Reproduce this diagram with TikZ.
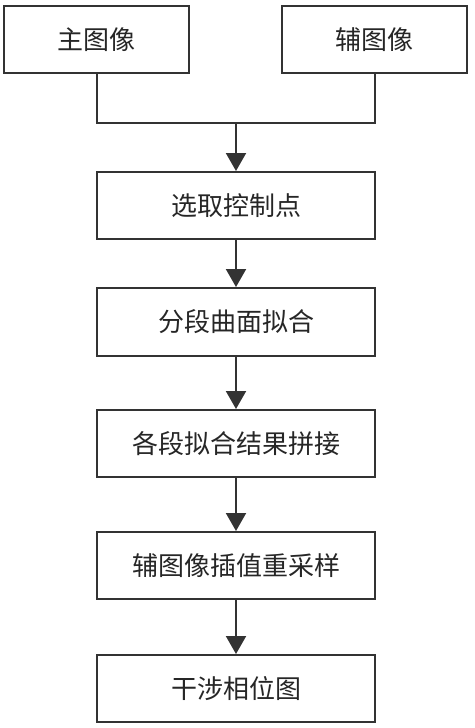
\documentclass[tikz,border=0pt]{standalone}
\usepackage{fontspec}
\newfontfamily\cjk{Noto Sans CJK SC}
\usetikzlibrary{arrows.meta}
\begin{document}
\begin{tikzpicture}[x=1pt,y=-1pt,
  box/.style={draw=black!80, line width=2pt, fill=white, inner sep=0pt, font=\cjk\fontsize{26}{30}\selectfont, text=black!85},
  conn/.style={draw=black!80, line width=2pt},
  arr/.style={conn, -{Triangle[width=20pt,length=18pt]}}]
\useasboundingbox (0,0) rectangle (474,728);
\node[box, minimum width=185pt, minimum height=67pt] (a) at (96.5,39.5) {主图像};
\node[box, minimum width=185pt, minimum height=67pt] (b) at (374.5,39.5) {辅图像};
\node[box, minimum width=278pt, minimum height=67pt] (c) at (236,205.5) {选取控制点};
\node[box, minimum width=278pt, minimum height=68pt] (d) at (236,322) {分段曲面拟合};
\node[box, minimum width=278pt, minimum height=67pt] (e) at (236,443.5) {各段拟合结果拼接};
\node[box, minimum width=278pt, minimum height=67pt] (f) at (236,565.5) {辅图像插值重采样};
\node[box, minimum width=278pt, minimum height=67pt] (g) at (236,688.5) {干涉相位图};
\coordinate (m) at (236,123);
\draw[conn] (a.south) |- (m) -| (b.south);
\draw[arr] (m) -- (c.north);
\draw[arr] (c) -- (d);
\draw[arr] (d) -- (e);
\draw[arr] (e) -- (f);
\draw[arr] (f) -- (g);
\end{tikzpicture}
\end{document}
